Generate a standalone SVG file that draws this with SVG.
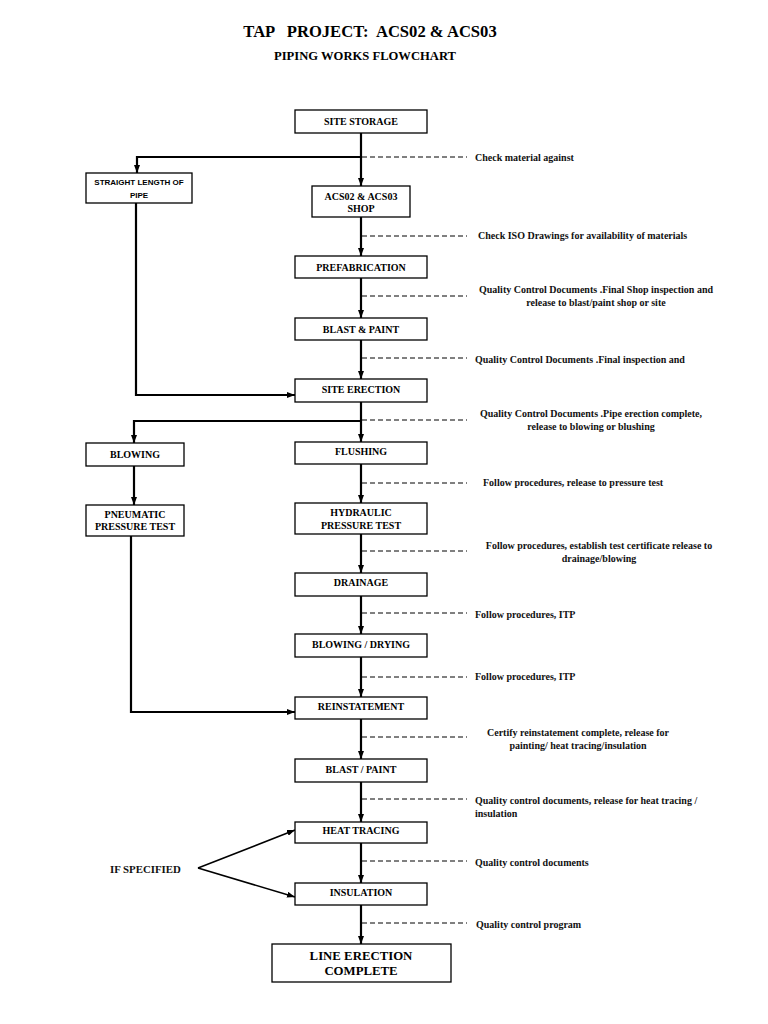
<svg xmlns="http://www.w3.org/2000/svg" width="768" height="1024" viewBox="0 0 768 1024">
<style>
.box{fill:#fff;stroke:#000;stroke-width:1.3}
.lbl{font-family:"Liberation Serif","Times New Roman",serif;font-weight:bold;font-size:10px;fill:#000;text-anchor:middle}
.big{font-size:12.8px}
.sans{font-family:"Liberation Sans",Arial,sans-serif;font-weight:bold;font-size:8px;fill:#000;text-anchor:middle}
.note{font-family:"Liberation Serif","Times New Roman",serif;font-weight:bold;font-size:10px;fill:#111}
.ifs{font-size:10.8px}
.mid{text-anchor:middle}
.flow{fill:none;stroke:#000;stroke-width:2.2}
.thin{fill:none;stroke:#000;stroke-width:1.6}
.dash{fill:none;stroke:#000;stroke-width:1;stroke-dasharray:5,3}
</style>
<defs>
<marker id="ah" viewBox="0 0 8 6" refX="8" refY="3" markerWidth="8" markerHeight="6" markerUnits="userSpaceOnUse" orient="auto">
<path d="M0,0 L8,3 L0,6 z" fill="#000"/>
</marker>
</defs>
<rect width="768" height="1024" fill="#fff"/>
<g id="title">
<text x="370" y="37" font-family="Liberation Serif,serif" font-weight="bold" font-size="16.6" text-anchor="middle" xml:space="preserve">TAP   PROJECT:  ACS02 &amp; ACS03</text>
<text x="365" y="60" font-family="Liberation Serif,serif" font-weight="bold" font-size="12.6" text-anchor="middle">PIPING WORKS FLOWCHART</text>
</g>
<g id="connectors">
<line class="flow" x1="361" y1="133" x2="361" y2="186" marker-end="url(#ah)"/>
<line class="flow" x1="361" y1="217" x2="361" y2="256" marker-end="url(#ah)"/>
<line class="flow" x1="361" y1="278" x2="361" y2="318" marker-end="url(#ah)"/>
<line class="flow" x1="361" y1="340" x2="361" y2="379" marker-end="url(#ah)"/>
<line class="flow" x1="361" y1="402" x2="361" y2="442" marker-end="url(#ah)"/>
<line class="flow" x1="361" y1="464" x2="361" y2="503" marker-end="url(#ah)"/>
<line class="flow" x1="361" y1="534" x2="361" y2="573" marker-end="url(#ah)"/>
<line class="flow" x1="361" y1="596" x2="361" y2="634" marker-end="url(#ah)"/>
<line class="flow" x1="361" y1="657" x2="361" y2="697" marker-end="url(#ah)"/>
<line class="flow" x1="361" y1="719" x2="361" y2="759" marker-end="url(#ah)"/>
<line class="flow" x1="361" y1="782" x2="361" y2="822" marker-end="url(#ah)"/>
<line class="flow" x1="361" y1="843" x2="361" y2="883" marker-end="url(#ah)"/>
<line class="flow" x1="361" y1="905" x2="361" y2="944" marker-end="url(#ah)"/>
<polyline class="flow" points="361,157 137,157 137,173" marker-end="url(#ah)"/>
<polyline class="flow" points="136,203 136,395 295,395" marker-end="url(#ah)"/>
<polyline class="flow" points="361,421 134,421 134,443" marker-end="url(#ah)"/>
<line class="flow" x1="134" y1="466" x2="134" y2="505" marker-end="url(#ah)"/>
<polyline class="flow" points="131,536 131,712 295,712" marker-end="url(#ah)"/>
<line class="thin" x1="198" y1="868" x2="295" y2="830" marker-end="url(#ah)"/>
<line class="thin" x1="198" y1="868" x2="295" y2="897" marker-end="url(#ah)"/>
<line class="dash" x1="362" y1="157" x2="467" y2="157"/>
<line class="dash" x1="362" y1="236" x2="467" y2="236"/>
<line class="dash" x1="362" y1="296" x2="467" y2="296"/>
<line class="dash" x1="362" y1="358" x2="467" y2="358"/>
<line class="dash" x1="362" y1="420" x2="467" y2="420"/>
<line class="dash" x1="362" y1="483" x2="467" y2="483"/>
<line class="dash" x1="362" y1="551" x2="467" y2="551"/>
<line class="dash" x1="362" y1="613" x2="467" y2="613"/>
<line class="dash" x1="362" y1="677" x2="467" y2="677"/>
<line class="dash" x1="362" y1="737" x2="467" y2="737"/>
<line class="dash" x1="362" y1="799" x2="467" y2="799"/>
<line class="dash" x1="362" y1="861" x2="467" y2="861"/>
<line class="dash" x1="362" y1="923" x2="467" y2="923"/>
</g>
<g id="site-storage"><rect class="box" x="295" y="110" width="132" height="23"/><text class="lbl" x="361" y="125">SITE STORAGE</text></g>
<g id="straight-length"><rect class="box" x="86" y="173" width="106" height="30"/><text class="sans" x="139" y="185">STRAIGHT LENGTH OF</text><text class="sans" x="139" y="198">PIPE</text></g>
<g id="shop"><rect class="box" x="312" y="186" width="98" height="31"/><text class="lbl" x="361" y="199.5">ACS02 &amp; ACS03</text><text class="lbl" x="361" y="211.5">SHOP</text></g>
<g id="prefabrication"><rect class="box" x="295" y="256" width="132" height="22"/><text class="lbl" x="361" y="270.5">PREFABRICATION</text></g>
<g id="blast-paint-1"><rect class="box" x="295" y="318" width="132" height="22"/><text class="lbl" x="361" y="332.5">BLAST &amp; PAINT</text></g>
<g id="site-erection"><rect class="box" x="295" y="379" width="132" height="23"/><text class="lbl" x="361" y="393">SITE ERECTION</text></g>
<g id="blowing"><rect class="box" x="86" y="443" width="98" height="23"/><text class="lbl" x="135" y="457.5">BLOWING</text></g>
<g id="flushing"><rect class="box" x="295" y="442" width="132" height="22"/><text class="lbl" x="361" y="455">FLUSHING</text></g>
<g id="pneumatic"><rect class="box" x="86" y="505" width="98" height="31"/><text class="lbl" x="135" y="517.5">PNEUMATIC</text><text class="lbl" x="135" y="530">PRESSURE TEST</text></g>
<g id="hydraulic"><rect class="box" x="295" y="503" width="132" height="31"/><text class="lbl" x="361" y="516">HYDRAULIC</text><text class="lbl" x="361" y="528.5">PRESSURE TEST</text></g>
<g id="drainage"><rect class="box" x="295" y="573" width="132" height="23"/><text class="lbl" x="361" y="585.5">DRAINAGE</text></g>
<g id="blowing-drying"><rect class="box" x="295" y="634" width="132" height="23"/><text class="lbl" x="361" y="647.5">BLOWING / DRYING</text></g>
<g id="reinstatement"><rect class="box" x="295" y="697" width="132" height="22"/><text class="lbl" x="361" y="709.5">REINSTATEMENT</text></g>
<g id="blast-paint-2"><rect class="box" x="295" y="759" width="132" height="23"/><text class="lbl" x="361" y="772.5">BLAST / PAINT</text></g>
<g id="heat-tracing"><rect class="box" x="295" y="822" width="132" height="21"/><text class="lbl" x="361" y="833.5">HEAT TRACING</text></g>
<g id="insulation"><rect class="box" x="295" y="883" width="132" height="22"/><text class="lbl" x="361" y="895.5">INSULATION</text></g>
<g id="line-erection-complete"><rect class="box" x="272" y="944" width="179" height="38"/><text class="lbl big" x="361" y="959.5">LINE ERECTION</text><text class="lbl big" x="361" y="974.5">COMPLETE</text></g>
<g id="if-specified"><text class="note ifs" x="110" y="873">IF SPECIFIED</text></g>
<g id="notes">
<text class="note" x="475" y="161">Check material against</text>
<text class="note" x="478" y="239">Check ISO Drawings for availability of materials</text>
<text class="note mid" x="596" y="293">Quality Control Documents .Final Shop inspection and</text>
<text class="note mid" x="596" y="306">release to blast/paint shop or site</text>
<text class="note" x="475" y="363">Quality Control Documents .Final inspection and</text>
<text class="note mid" x="591" y="417">Quality Control Documents .Pipe erection complete,</text>
<text class="note mid" x="591" y="430">release to blowing or blushing</text>
<text class="note" x="483" y="486">Follow procedures, release to pressure test</text>
<text class="note mid" x="599" y="549">Follow procedures, establish test certificate release to</text>
<text class="note mid" x="599" y="562">drainage/blowing</text>
<text class="note" x="475" y="618">Follow procedures, ITP</text>
<text class="note" x="475" y="680">Follow procedures, ITP</text>
<text class="note mid" x="578" y="736">Certify reinstatement complete, release for</text>
<text class="note mid" x="578" y="749">painting/ heat tracing/insulation</text>
<text class="note" x="475" y="804">Quality control documents, release for heat tracing /</text>
<text class="note" x="475" y="817">insulation</text>
<text class="note" x="475" y="866">Quality control documents</text>
<text class="note" x="476" y="928">Quality control program</text>
</g>
</svg>
